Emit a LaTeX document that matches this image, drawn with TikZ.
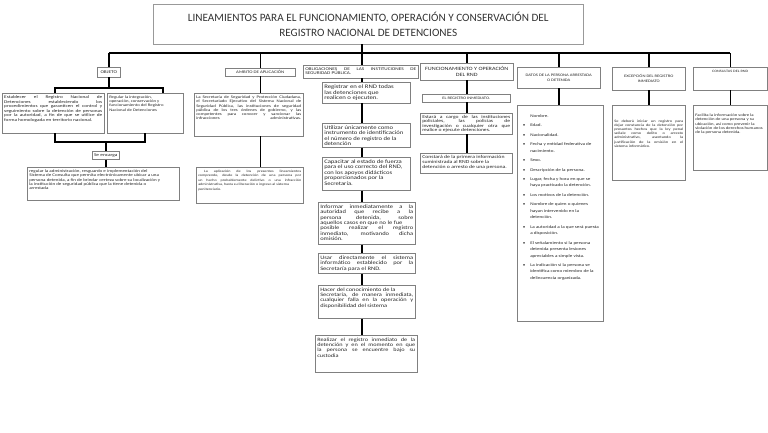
\documentclass[tikz,border=0pt]{standalone}
\usepackage{fontspec}
\setmainfont{Carlito}
\newfontfamily\bodyf[FakeStretch=1.25]{Carlito}
\tikzset{
  bx/.style={draw=black!50, line width=0.5pt, fill=white, inner sep=0pt, anchor=north west, text=black!85},
  conn/.style={line width=1.5pt, black},
}
\newcommand{\jline}[1]{\makebox[\linewidth][s]{#1}\\}
\newcommand{\mkbx}[9]{\node[bx, minimum width=#4pt, minimum height=#5pt] (#1) at (#2,#3) {\parbox[c][\dimexpr#5pt-3pt\relax][t]{\dimexpr#4pt-4pt\relax}{\bodyf\fontsize{#6}{#7}\selectfont\raggedright\vspace*{#8pt}#9}};}
\newcommand{\mkhd}[8]{\node[bx, minimum width=#4pt, minimum height=#5pt, align=center, font={\bodyf\fontsize{#6}{#7}\selectfont}] (#1) at (#2,#3) {#8};}
\newcommand{\dit}[1]{\par\vspace{2.9pt}\hangindent=11pt\hangafter=1\noindent\makebox[11pt][l]{\hspace{3.5pt}\textbullet}#1}
\begin{document}
\begin{tikzpicture}[x=1pt,y=-1pt]
\fill[white] (0,0) rectangle (768,433);
\useasboundingbox (0,0) rectangle (768,433);
% title
\node[bx, draw=black!40, minimum width=430pt, minimum height=40pt, align=center, text=black!80, font={\fontsize{11.2}{15.5}\selectfont}] (title) at (153,4) {LINEAMIENTOS PARA EL FUNCIONAMIENTO, OPERACIÓN Y CONSERVACIÓN DEL\\REGISTRO NACIONAL DE DETENCIONES};
% OBJETO column
\mkhd{objeto}{97}{67}{23}{10}{4.2}{5}{OBJETO}
\mkbx{obj1}{2}{93}{102}{40}{4.2}{4.5}{1}{\jline{Establecer el Registro Nacional de}\jline{Detenciones estableciendo los}\jline{procedimientos que garanticen el control y}\jline{seguimiento sobre la detención de personas}\jline{por la autoridad, a fin de que se utilice de}forma homologada en territorio nacional.}
\mkbx{obj2}{107}{93}{76}{40}{3.8}{4.3}{1}{Regular la integración,\\ operación, conservación y\\ funcionamiento del Registro\\ Nacional de Detenciones}
\mkhd{seenc}{92}{151}{27}{8}{4.3}{5}{Se encarga}
\mkbx{obj3}{27}{167}{152}{33}{4.0}{4.3}{1}{regular la administración, resguardo e implementación del\\ Sistema de Consulta que permita electrónicamente ubicar a una\\ persona detenida, a fin de brindar certeza sobre su localización y\\ la institución de seguridad pública que la tiene detenida o\\ arrestada}
% AMBITO column
\mkhd{ambito}{225}{68}{70}{8}{3.9}{5}{AMBITO DE APLICACIÓN}
\mkbx{amb1}{194}{93}{109}{43}{3.85}{4.3}{1}{\jline{La Secretaría de Seguridad y Protección Ciudadana,}\jline{el Secretariado Ejecutivo del Sistema Nacional de}\jline{Seguridad Pública, las instituciones de seguridad}\jline{pública de los tres órdenes de gobierno, y las}\jline{competentes para conocer y sancionar las}\makebox[\linewidth][s]{infracciones administrativas.}}
\mkbx{amb2}{196}{167}{107}{36}{3.3}{4.6}{1}{\jline{\ La aplicación de los presentes lineamientos}\jline{comprende, desde la detención de una persona por}\jline{un hecho probablemente delictivo o una infracción}administrativa, hasta su liberación o ingreso al sistema\\ penitenciario.}
% OBLIGACIONES column
\mkbx{oblig}{303}{65}{115}{13}{4.2}{4.6}{0.8}{\jline{OBLIGACIONES DE LAS INSTITUCIONES DE}SEGURIDAD PÚBLICA.}
\mkbx{ob1}{322}{82}{88}{21}{5.4}{5.6}{1}{Registrar en el RND todas\\ las detenciones que\\ realicen o ejecuten.}
\mkbx{ob2}{322}{123}{88}{24}{5.3}{5.4}{1}{Utilizar únicamente como\\ instrumento de identificación\\ el número de registro de la\\ detención}
\mkbx{ob3}{322}{157}{88}{33}{5.3}{5.5}{1}{Capacitar al estado de fuerza\\ para el uso correcto del RND,\\ con los apoyos didácticos\\ proporcionados por la\\ Secretaría.}
\mkbx{ob4}{318}{202}{97}{42}{5.2}{5.4}{1}{\jline{Informar inmediatamente a la}\jline{autoridad que recibe a la}\jline{persona detenida, sobre}aquellos casos en que no le fue\\ \jline{posible realizar el registro}\jline{inmediato, motivando dicha}omisión.}
\mkbx{ob5}{318}{253}{97}{20}{5.2}{5.4}{1}{\jline{Usar directamente el sistema}\jline{informático establecido por la}Secretaría para el RND.}
\mkbx{ob6}{318}{285}{97}{33}{5.1}{5.3}{1}{Hacer del conocimiento de la\\ \jline{Secretaría, de manera inmediata,}\jline{cualquier falla en la operación y}disponibilidad del sistema}
\mkbx{ob7}{315}{335}{102}{37}{5.0}{5.3}{1}{\jline{Realizar el registro inmediato de la}\jline{detención y en el momento en que}\jline{la persona se encuentre bajo su}custodia}
% FUNCIONAMIENTO column
\mkhd{func}{420}{63}{93}{17}{4.9}{5.6}{FUNCIONAMIENTO Y OPERACIÓN\\DEL RND}
\mkhd{reg}{422}{94}{88}{8}{3.7}{5}{EL REGISTRO INMEDIATO.}
\mkbx{fu1}{420}{113}{92}{21}{4.5}{4.5}{0.5}{\jline{Estará a cargo de las instituciones}\jline{policiales, las policías de}\jline{investigación o cualquier otra que}realice o ejecute detenciones.}
\mkbx{fu2}{420}{153}{92}{20}{4.6}{4.6}{1}{Constará de la primera información\\ suministrada al RND sobre la\\ detención o arresto de una persona.}
% DATOS column
\mkhd{datos}{517}{67}{83}{21}{3.7}{5}{DATOS DE LA PERSONA ARRESTADA\\O DETENIDA}
\mkbx{dat1}{517}{105}{86}{216}{4.1}{6.5}{8}{\noindent\hspace*{11pt}Nombre.
\dit{Edad.}
\dit{Nacionalidad.}
\dit{Fecha y entidad federativa de\newline nacimiento.}
\dit{Sexo.}
\dit{Descripción de la persona.}
\dit{Lugar, fecha y hora en que se\newline haya practicado la detención.}
\dit{Los motivos de la detención.}
\dit{Nombre de quien o quienes\newline hayan intervenido en la\newline detención.}
\dit{La autoridad a la que será puesta\newline a disposición.}
\dit{El señalamiento si la persona\newline detenida presenta lesiones\newline apreciables a simple vista.}
\dit{La indicación si la persona se\newline identifica como miembro de la\newline delincuencia organizada.}}
% EXCEPCION column
\mkhd{exc}{612}{67}{73}{23}{3.7}{5.2}{EXCEPCIÓN DEL REGISTRO\\INMEDIATO}
\mkbx{ex1}{612}{105}{73}{75}{3.5}{4.2}{13}{\jline{Se deberá iniciar un registro para}\jline{dejar constancia de la detención por}\jline{presuntos hechos que la ley penal}\jline{señale como delito o arresto}\jline{administrativo, asentando la}\jline{justificación de la omisión en el}sistema informático.}
% CONSULTAS column
\mkbx{cons}{693}{67}{74}{23}{3.4}{4}{2}{\centering CONSULTAS DEL RND}
\mkbx{co1}{693}{105}{74}{65}{3.8}{4.4}{7}{Facilita la información sobre la\\ detención de una persona y su\\ ubicación, así como prevenir la\\ violación de los derechos humanos\\ de la persona detenida.}
% connectors
\coordinate (hl) at (108,53);
\coordinate (vx) at (362,53);
\draw[conn] (title.south -| vx) -- (oblig.north -| vx);
\draw[conn] (objeto.north |- hl) -- (cons.north |- hl);
\foreach \h in {objeto,ambito,func,datos,exc,cons}{\draw[conn] (\h.north) -- (\h.north |- hl);}
\coordinate (ba) at (55,88);
\coordinate (bb) at (163,88);
\draw[conn] (objeto.south) -- (objeto.south |- ba);
\draw[conn] (ba |- obj1.north) -- (ba) -- (bb) -- (bb |- obj2.north);
\coordinate (bc) at (55,142);
\coordinate (bd) at (145,142);
\draw[conn] (bc |- obj1.south) -- (bc) -- (bd) -- (bd |- obj2.south);
\draw[conn] (seenc.north |- bc) -- (seenc.north);
\draw[conn] (seenc.south) -- (seenc.south |- obj3.north);
\draw[conn] (ambito.south) -- (ambito.south |- amb1.north);
\draw[conn] (amb1.south -| ambito.south) -- (amb2.north -| ambito.south);
\draw[conn] (oblig.south -| vx) -- (ob1.north -| vx);
\draw[conn] (ob1.south -| vx) -- (ob2.north -| vx);
\draw[conn] (ob2.south -| vx) -- (ob3.north -| vx);
\draw[conn] (ob3.south -| vx) -- (ob4.north -| vx);
\draw[conn] (ob4.south -| vx) -- (ob5.north -| vx);
\draw[conn] (ob5.south -| vx) -- (ob6.north -| vx);
\draw[conn] (ob6.south -| vx) -- (ob7.north -| vx);
\draw[conn] (func.south) -- (func.south |- reg.north);
\draw[conn] (reg.south -| func.south) -- (fu1.north -| func.south);
\draw[conn] (fu1.south -| func.south) -- (fu2.north -| func.south);
\draw[conn] (datos.south) -- (datos.south |- dat1.north);
\draw[conn] (exc.south) -- (exc.south |- ex1.north);
\draw[conn] (cons.south) -- (cons.south |- co1.north);
\end{tikzpicture}
\end{document}
